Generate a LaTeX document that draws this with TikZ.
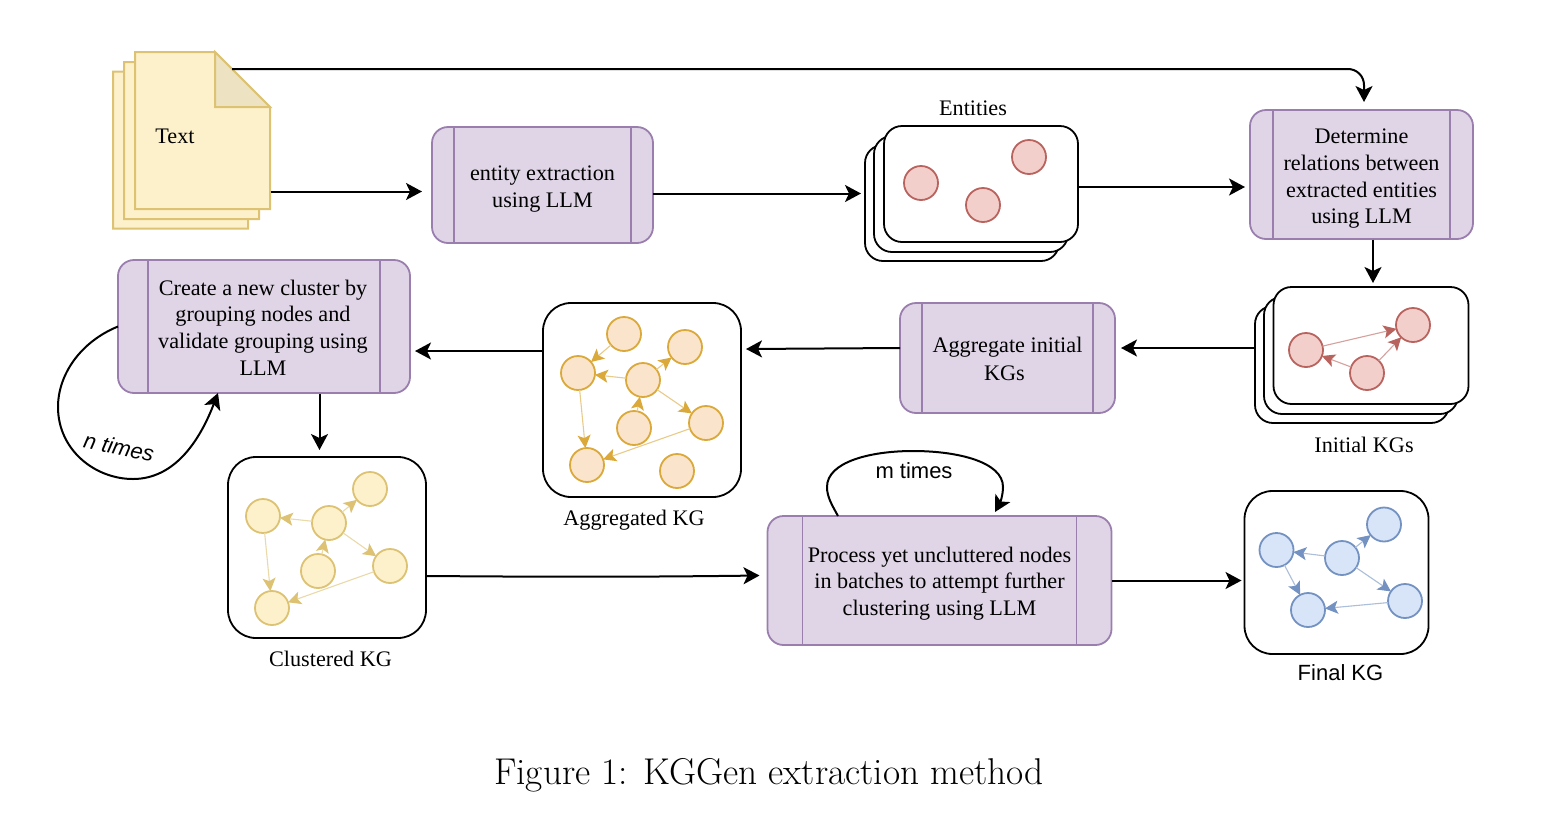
\documentclass[tikz,border=0pt]{standalone}
\usepackage{fontspec}
\usetikzlibrary{arrows.meta}
\usetikzlibrary{positioning}
\usetikzlibrary{calc}
\newfontfamily\serifdiag{Liberation Serif}
\newfontfamily\sansdiag{Liberation Sans}
\newcommand{\lift}[1]{\rule{0pt}{#1pt}}
\newcommand{\foldsheet}[2]{\draw[docline, fill=#2, line width=1pt] (#1.north west) -- ([xshift=-27.5pt]#1.north east) -- ([yshift=-27.5pt]#1.north east) -- (#1.south east) -- (#1.south west) -- cycle;}
\definecolor{docfill}{HTML}{FDF1CB}
\definecolor{docline}{HTML}{DCC272}
\definecolor{docfold}{HTML}{EDE3C2}
\definecolor{procfill}{HTML}{DFD5E6}
\definecolor{procline}{HTML}{9A7FAE}
\definecolor{redfill}{HTML}{F3CFCC}
\definecolor{redline}{HTML}{B9635E}
\definecolor{orangefill}{HTML}{FAE4CB}
\definecolor{orangeline}{HTML}{DBA93A}
\definecolor{bluefill}{HTML}{D8E5F8}
\definecolor{blueline}{HTML}{7392C2}
\tikzset{
  sheet/.style={draw=none, fill=none, inner sep=0pt, outer sep=0pt,
    minimum width=67.5pt, minimum height=78.5pt},
  procbox/.style={draw=procline, fill=procfill, line width=0.9pt, rounded corners=8pt,
    inner sep=0pt, outer sep=0pt, align=center, font=\serifdiag\fontsize{11.1}{13.35}\selectfont,
    path picture={
      \draw[procline, line width=0.9pt] ([xshift=#1]path picture bounding box.north west) -- ([xshift=#1]path picture bounding box.south west);
      \draw[procline, line width=0.9pt] ([xshift=-#1]path picture bounding box.north east) -- ([xshift=-#1]path picture bounding box.south east);
    }},
  card/.style={draw=black, fill=white, line width=0.9pt, rounded corners=#1, inner sep=0pt, outer sep=0pt},
  kgcircle/.style={circle, draw=#1line, fill=#1fill, line width=0.9pt, minimum size=17pt, inner sep=0pt, outer sep=0pt},
  kgedge/.style={draw=#1!60!white, line width=0.55pt, -{Stealth[length=6.5pt,width=6.5pt,inset=1.5pt,color=#1]}},
  flow/.style={draw=black, line width=1pt, -{Stealth[length=8pt,width=8.5pt,inset=2pt]}},
  caplabel/.style={inner sep=0pt, font=\serifdiag\fontsize{11.1}{13.35}\selectfont},
  looplabel/.style={inner sep=0pt, font=\sansdiag\fontsize{11}{13}\selectfont}
}
\begin{document}
\begin{tikzpicture}[x=0.5pt, y=-0.5pt]
    \useasboundingbox (0,0) rectangle (1568,820);

    \node[sheet] (docback) at (180.5,150) {};
    \foldsheet{docback}{docfill}
    \node[sheet] (docmid) at (191.5,140.5) {};
    \foldsheet{docmid}{docfill}
    \node[sheet] (doc) at (202.5,130.5) {};
    \foldsheet{doc}{docfill}
    \draw[docline, fill=docfold, line width=1pt] (215,52) -- (270,107) -- (215,107) -- cycle;
    \node[caplabel] (doctext) at (175,136) {Text};
    \coordinate (docout) at (270.5,191.5);
    \coordinate (doctop) at (232,69);

    \node[procbox=22pt/2, minimum width=110.5pt, minimum height=58pt] (entity) at (542.5,185) {\lift{11.6}entity extraction\\using LLM};

    \node[card=9pt, minimum width=97pt, minimum height=58pt] (entitiesback) at (962,203) {};
    \node[card=9pt, minimum width=97pt, minimum height=58pt] (entitiesmid) at (971,194) {};
    \node[card=9pt, minimum width=97pt, minimum height=58pt] (entitiesfront) at (981,184) {};
    \node[kgcircle=red] (ea) at (921,183) {};
    \node[kgcircle=red] (eb) at (1029,157) {};
    \node[kgcircle=red] (ec) at (983,205) {};
    \node[caplabel] (entitieslabel) at (973,108) {Entities};

    \node[procbox=23pt/2, minimum width=111.5pt, minimum height=64.5pt] (relations) at (1361.5,174.5) {\lift{11.6}Determine\\relations between\\extracted entities\\using LLM};

    \node[card=9pt, minimum width=97pt, minimum height=58.5pt] (initialback) at (1352,364.5) {};
    \node[card=9pt, minimum width=97pt, minimum height=58.5pt] (initialmid) at (1361,355.5) {};
    \node[card=9pt, minimum width=97.5pt, minimum height=58.5pt] (initialfront) at (1371,345.5) {};
    \node[kgcircle=red] (ia) at (1306,350) {};
    \node[kgcircle=red] (ib) at (1413,325) {};
    \node[kgcircle=red] (ic) at (1367,373) {};
    \draw[kgedge=redline] (ia) -- (ib);
    \draw[kgedge=redline] (ic) -- (ia);
    \draw[kgedge=redline] (ic) -- (ib);
    \node[caplabel] (initiallabel) at (1364,445) {Initial KGs};

    \node[procbox=22pt/2, minimum width=107.5pt, minimum height=55pt] (aggregate) at (1007.5,358) {\lift{8.6}Aggregate initial\\[0.7pt]KGs\hspace{3pt}\phantom{}};

    \node[card=14pt, minimum width=99pt, minimum height=97pt] (aggregated) at (642,400) {};
    \node[kgcircle=orange] (aa) at (624,334) {};
    \node[kgcircle=orange] (ab) at (685,347) {};
    \node[kgcircle=orange] (ac) at (578,373) {};
    \node[kgcircle=orange] (ad) at (643,380) {};
    \node[kgcircle=orange] (ae) at (706,423) {};
    \node[kgcircle=orange] (af) at (634,428) {};
    \node[kgcircle=orange] (ag) at (587,465) {};
    \node[kgcircle=orange] (ah) at (677,471) {};
    \draw[kgedge=orangeline] (aa) -- (ac);
    \draw[kgedge=orangeline] (ad) -- (ab);
    \draw[kgedge=orangeline] (ad) -- (ac);
    \draw[kgedge=orangeline] (af) -- (ad);
    \draw[kgedge=orangeline] (ad) -- (ae);
    \draw[kgedge=orangeline] (ac) -- (ag);
    \draw[kgedge=orangeline] (ae) -- (ag);
    \node[caplabel] (aggregatedlabel) at (634,520) {Aggregated KG};

    \node[procbox=30pt/2, minimum width=146pt, minimum height=66.5pt] (cluster) at (264,326.5) {\hspace{-1pt}\lift{8.6}Create a new cluster by\\\hspace{-1pt}grouping nodes and\\\hspace{-1pt}validate grouping using\\\hspace{-1pt}LLM};

    \node[card=14pt, minimum width=99pt, minimum height=90.5pt] (clustered) at (327,547.5) {};
    \node[kgcircle=doc] (ca) at (263,516) {};
    \node[kgcircle=doc] (cb) at (370,489) {};
    \node[kgcircle=doc] (cc) at (329,523) {};
    \node[kgcircle=doc] (cd) at (390,566) {};
    \node[kgcircle=doc] (ce) at (318,571) {};
    \node[kgcircle=doc] (cf) at (272,608) {};
    \draw[kgedge=docline] (cc) -- (cb);
    \draw[kgedge=docline] (cc) -- (ca);
    \draw[kgedge=docline] (ce) -- (cc);
    \draw[kgedge=docline] (cc) -- (cd);
    \draw[kgedge=docline] (ca) -- (cf);
    \draw[kgedge=docline] (cd) -- (cf);
    \node[caplabel] (clusteredlabel) at (330.5,659) {Clustered KG};

    \node[procbox=35pt/2, minimum width=172pt, minimum height=64.5pt] (process) at (939.5,580.5) {\lift{10.6}Process yet uncluttered nodes\\in batches to attempt further\\clustering using LLM};

    \node[card=14pt, minimum width=92pt, minimum height=81.5pt] (final) at (1336.5,572.5) {};
    \node[kgcircle=blue] (fa) at (1276.5,550) {};
    \node[kgcircle=blue] (fb) at (1384,524.5) {};
    \node[kgcircle=blue] (fc) at (1342,558) {};
    \node[kgcircle=blue] (fd) at (1405,601) {};
    \node[kgcircle=blue] (fe) at (1308,610) {};
    \draw[kgedge=blueline] (fc) -- (fb);
    \draw[kgedge=blueline] (fc) -- (fa);
    \draw[kgedge=blueline] (fa) -- (fe);
    \draw[kgedge=blueline] (fc) -- (fd);
    \draw[kgedge=blueline] (fd) -- (fe);
    \node[looplabel] (finallabel) at (1340.5,673) {Final KG};

    \node[looplabel, rotate=-12] (nlabel) at (119,447) {\itshape n times};
    \node[looplabel] (mlabel) at (914,471) {m times};

    \coordinate (entityin) at (422,191.5);
    \coordinate (entityout) at (653,193.5);
    \coordinate (entitiesin) at (861,193.5);
    \coordinate (entitiesout) at (1078.5,187);
    \coordinate (relationsin) at (1245,187);
    \coordinate (relationstop) at (1364,102);
    \coordinate (relationsout) at (1373,239.5);
    \coordinate (initialin) at (1373,283);
    \coordinate (clusterout) at (319.5,393.5);
    \coordinate (clusteredin) at (319.5,450);

    \draw[flow] (docout) -- (entityin);
    \draw[flow, rounded corners=8pt] (doctop) -- (1364,69) -- (relationstop);
    \draw[flow] (entityout) -- (entitiesin);
    \draw[flow] (entitiesout) -- (relationsin);
    \draw[flow] (relationsout) -- (initialin);
    \draw[flow] ([yshift=8.25pt]initialback.west) -- ([xshift=3pt,yshift=5pt]aggregate.east);
    \draw[flow] ([yshift=5pt]aggregate.west) -- ([xshift=2.5pt,yshift=25.5pt]aggregated.east);
    \draw[flow] ([yshift=24.5pt]aggregated.west) -- ([xshift=2.5pt,yshift=-12.25pt]cluster.east);
    \draw[flow] (clusterout) -- (clusteredin);
    \draw[flow] ([yshift=-14.25pt]clustered.east) .. controls (560,577) and (640,577) .. ([xshift=-4pt,yshift=2.5pt]process.west);
    \draw[flow] (process.east) -- ([xshift=-1.5pt,yshift=-4pt]final.west);
    \draw[flow] (cluster.west) .. controls (80,342) and (58,375) .. (58,407) .. controls (58,450) and (95,479) .. (133,479) .. controls (175,479) and (200,440) .. ([xshift=50pt]cluster.south west);
    \draw[flow] (838,516) .. controls (832,505) and (827,497) .. (827,487) .. controls (827,462) and (870,451) .. (913,451) .. controls (958,451) and (1003,462) .. (1003,487) .. controls (1003,495) and (1000,503) .. (995,512);

    \node[inner sep=0pt, font=\fontsize{18.65}{22}\selectfont] (caption) at (769,775) {Figure 1: KGGen extraction method};
  \end{tikzpicture}
\end{document}
